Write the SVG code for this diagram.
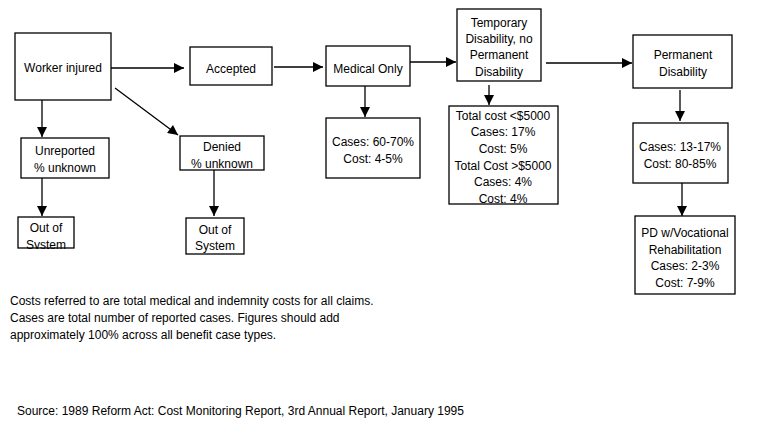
<svg xmlns="http://www.w3.org/2000/svg" width="768" height="435" viewBox="0 0 768 435">
<style>
rect{fill:#fff;stroke:#000;stroke-width:1.3}
text{font-family:"Liberation Sans",Arial,sans-serif;font-size:12px;fill:#000;text-anchor:middle}
.l{text-anchor:start}
line{stroke:#000;stroke-width:1.3;marker-end:url(#a)}
</style>
<defs><marker id="a" viewBox="0 0 10 10" refX="10" refY="5" markerWidth="11" markerHeight="10" markerUnits="userSpaceOnUse" orient="auto"><path d="M0,0L10,5L0,10z"/></marker></defs>
<rect x="0" y="0" width="768" height="435" style="stroke:none"/>
<g id="connectors">
<line x1="111" y1="68" x2="184" y2="68"/>
<line x1="274" y1="67" x2="323" y2="67"/>
<line x1="410" y1="62" x2="456" y2="62"/>
<line x1="546" y1="63" x2="632" y2="63"/>
<line x1="115" y1="88" x2="178" y2="135"/>
<line x1="42" y1="100" x2="42" y2="137"/>
<line x1="42" y1="178" x2="42" y2="216"/>
<line x1="214" y1="170" x2="214" y2="216"/>
<line x1="365" y1="86" x2="365" y2="117"/>
<line x1="489" y1="85" x2="489" y2="105"/>
<line x1="680" y1="90" x2="680" y2="121"/>
<line x1="682" y1="183" x2="682" y2="216"/>
</g>
<g id="worker"><rect x="15" y="33" width="96" height="67"/><text x="63" y="72">Worker injured</text></g>
<g id="accepted"><rect x="190" y="47" width="82" height="38"/><text x="231" y="73">Accepted</text></g>
<g id="medical"><rect x="326" y="46" width="84" height="40"/><text x="368" y="73">Medical Only</text></g>
<g id="medstats"><rect x="326" y="118" width="94" height="60"/><text x="373" y="146">Cases: 60-70%</text><text x="373" y="163">Cost: 4-5%</text></g>
<g id="unreported"><rect x="21" y="138" width="88" height="40"/><text x="65" y="155">Unreported</text><text x="65" y="172">% unknown</text></g>
<g id="denied"><rect x="180" y="136" width="84" height="34"/><text x="222" y="151">Denied</text><text x="222" y="168">% unknown</text></g>
<g id="out1"><rect x="18" y="217" width="56" height="31"/><text x="46" y="232">Out of</text><text x="46" y="249">System</text><rect x="14" y="249" width="64" height="10" style="stroke:none"/></g>
<g id="out2"><rect x="186" y="218" width="58" height="36"/><text x="215" y="234">Out of</text><text x="215" y="250">System</text></g>
<g id="temp"><rect x="457" y="9" width="84" height="72"/><text x="499" y="27">Temporary</text><text x="499" y="43">Disability, no</text><text x="499" y="59">Permanent</text><text x="499" y="76">Disability</text></g>
<g id="tempstats"><rect x="449" y="106" width="109" height="98"/><text x="503" y="120">Total cost &lt;$5000</text><text x="503" y="136">Cases: 17%</text><text x="503" y="153">Cost: 5%</text><text x="503" y="170">Total Cost &gt;$5000</text><text x="503" y="186">Cases: 4%</text><text x="503" y="203">Cost: 4%</text></g>
<g id="perm"><rect x="633" y="35" width="99" height="53"/><text x="683" y="59">Permanent</text><text x="683" y="76">Disability</text></g>
<g id="permstats"><rect x="633" y="123" width="95" height="60"/><text x="680" y="151">Cases: 13-17%</text><text x="680" y="168">Cost: 80-85%</text></g>
<g id="pd"><rect x="635" y="216" width="100" height="78"/><text x="685" y="237">PD w/Vocational</text><text x="685" y="254">Rehabilitation</text><text x="685" y="270">Cases: 2-3%</text><text x="685" y="287">Cost: 7-9%</text></g>
<g id="notes">
<text class="l" x="10" y="305">Costs referred to are total medical and indemnity costs for all claims.</text>
<text class="l" x="10" y="322">Cases are total number of reported cases.  Figures should add</text>
<text class="l" x="10" y="339">approximately 100% across all benefit case types.</text>
<text class="l" x="17" y="415">Source: 1989 Reform Act: Cost Monitoring Report, 3rd Annual Report, January 1995</text>
</g>
</svg>
